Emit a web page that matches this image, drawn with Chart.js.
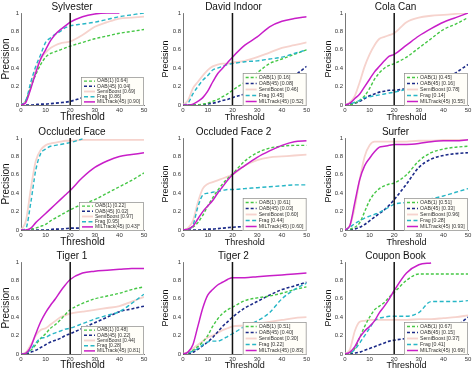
<!DOCTYPE html>
<html>
<head>
<meta charset="utf-8">
<script src="https://cdn.jsdelivr.net/npm/chart.js@4.4.0/dist/chart.umd.min.js"></script>
<style>
  body { margin: 0; background: #fff; }
  #wrap { position: relative; width: 474px; height: 372px; overflow: hidden; }
  #wrap canvas { position: absolute; }
</style>
</head>
<body>
<div id="wrap"></div>
<script>
// x positions (pixel threshold) shared by every panel
const thresholds = [0, 2, 4, 6, 8, 10, 12, 14, 16, 18, 20, 25, 30, 35, 40, 45, 50];
const methods = ['OAB(1)', 'OAB(45)', 'SemiBoost', 'Frag', 'MILTrack(45)'];
const panelTitles = ['Sylvester', 'David Indoor', 'Cola Can', 'Occluded Face', 'Occluded Face 2',
                     'Surfer', 'Tiger 1', 'Tiger 2', 'Coupon Book'];
const xTicks = [0, 10, 20, 30, 40, 50];
const yTicks = [0, 0.2, 0.4, 0.6, 0.8, 1];
const markerThreshold = 20;

// rows: OAB(1), OAB(45), SemiBoost, Frag, MILTrack(45)
const sylvester = [
  [0, 0.05, 0.2, 0.33, 0.44, 0.52, 0.56, 0.58, 0.6, 0.62, 0.64, 0.68, 0.72, 0.75, 0.78, 0.8, 0.82],
  [0, 0, 0, 0.005, 0.01, 0.01, 0.015, 0.02, 0.025, 0.03, 0.04, 0.08, 0.12, 0.16, 0.2, 0.22, 0.24],
  [0, 0.04, 0.2, 0.38, 0.5, 0.57, 0.62, 0.65, 0.67, 0.68, 0.69, 0.76, 0.85, 0.9, 0.94, 0.95, 0.96],
  [0, 0.05, 0.25, 0.42, 0.55, 0.68, 0.73, 0.77, 0.8, 0.84, 0.86, 0.88, 0.9, 0.93, 0.96, 0.98, 1],
  [0, 0.03, 0.18, 0.35, 0.5, 0.6, 0.7, 0.77, 0.82, 0.86, 0.9, 0.96, 0.99, 1, 1, null, null]
];
const davidIndoor = [
  [0, 0, 0, 0, 0.01, 0.02, 0.04, 0.06, 0.09, 0.12, 0.16, 0.25, 0.35, 0.45, 0.5, 0.55, 0.6],
  [0, 0, 0, 0, 0, 0.01, 0.02, 0.03, 0.05, 0.06, 0.08, 0.12, 0.16, 0.2, 0.25, 0.32, 0.42],
  [0, 0.05, 0.18, 0.25, 0.32, 0.38, 0.42, 0.44, 0.45, 0.45, 0.46, 0.48, 0.52, 0.57, 0.62, 0.65, 0.68],
  [0, 0.02, 0.12, 0.2, 0.27, 0.32, 0.38, 0.4, 0.42, 0.44, 0.45, 0.47, 0.48, 0.5, 0.52, 0.56, 0.6],
  [0, 0, 0.01, 0.04, 0.08, 0.15, 0.25, 0.34, 0.4, 0.46, 0.52, 0.65, 0.74, 0.85, 0.91, 0.94, 0.96]
];
const colaCan = [
  [0, 0, 0.02, 0.05, 0.1, 0.18, 0.28, 0.35, 0.4, 0.43, 0.45, 0.52, 0.62, 0.72, 0.82, 0.88, 0.95],
  [0, 0.01, 0.02, 0.04, 0.07, 0.1, 0.12, 0.14, 0.15, 0.16, 0.16, 0.18, 0.2, 0.23, 0.27, 0.35, 0.44],
  [0, 0.03, 0.1, 0.25, 0.42, 0.55, 0.65, 0.72, 0.74, 0.76, 0.78, 0.9, 0.95, 0.97, 0.98, 0.99, 1],
  [0, 0.01, 0.03, 0.05, 0.08, 0.09, 0.1, 0.11, 0.12, 0.13, 0.14, 0.17, 0.2, 0.22, 0.24, 0.27, 0.3],
  [0, 0.02, 0.07, 0.12, 0.2, 0.28, 0.36, 0.42, 0.48, 0.53, 0.55, 0.65, 0.75, 0.83, 0.9, 0.95, 1]
];
const occludedFace = [
  [0, 0, 0.01, 0.02, 0.04, 0.06, 0.1, 0.13, 0.16, 0.19, 0.22, 0.28, 0.33, 0.4, 0.47, 0.54, 0.62],
  [0, 0, 0, 0, 0, 0, 0.005, 0.01, 0.01, 0.015, 0.02, 0.02, 0.03, 0.03, 0.04, 0.05, 0.05],
  [0, 0.1, 0.45, 0.75, 0.87, 0.92, 0.94, 0.95, 0.96, 0.97, 0.97, 0.98, 0.98, 0.98, 0.98, 0.98, 0.98],
  [0, 0.02, 0.3, 0.65, 0.83, 0.88, 0.91, 0.92, 0.93, 0.94, 0.95, 0.99, null, null, null, null, null],
  [0, 0, 0.02, 0.08, 0.13, 0.18, 0.23, 0.28, 0.33, 0.38, 0.43, 0.57, 0.68, 0.75, 0.8, 0.82, 0.84]
];
const occludedFace2 = [
  [0, 0.01, 0.03, 0.08, 0.16, 0.26, 0.35, 0.43, 0.5, 0.56, 0.61, 0.75, 0.84, 0.89, 0.91, 0.92, 0.92],
  [0, 0, 0, 0, 0.005, 0.01, 0.01, 0.015, 0.02, 0.025, 0.03, 0.04, 0.06, 0.07, 0.08, 0.1, 0.12],
  [0, 0.02, 0.1, 0.3, 0.45, 0.5, 0.52, 0.54, 0.56, 0.58, 0.6, 0.7, 0.76, 0.79, 0.8, 0.81, 0.82],
  [0, 0.01, 0.05, 0.25, 0.38, 0.4, 0.41, 0.42, 0.43, 0.44, 0.44, 0.45, 0.46, 0.47, 0.48, 0.49, 0.49],
  [0, 0.01, 0.04, 0.12, 0.2, 0.26, 0.32, 0.4, 0.47, 0.54, 0.6, 0.7, 0.79, 0.86, 0.92, 0.96, 0.97]
];
const surfer = [
  [0, 0.01, 0.03, 0.08, 0.2, 0.32, 0.4, 0.45, 0.48, 0.5, 0.51, 0.6, 0.75, 0.84, 0.88, 0.9, 0.91],
  [0, 0, 0.01, 0.03, 0.06, 0.1, 0.14, 0.18, 0.22, 0.27, 0.33, 0.5, 0.68, 0.77, 0.81, 0.83, 0.84],
  [0, 0.05, 0.25, 0.55, 0.8, 0.92, 0.96, 0.96, 0.96, 0.96, 0.96, 0.96, 0.97, 0.97, 0.98, 0.98, 0.98],
  [0, 0.03, 0.07, 0.1, 0.13, 0.15, 0.17, 0.19, 0.22, 0.25, 0.28, 0.3, 0.32, 0.34, 0.37, 0.41, 0.45],
  [0, 0.05, 0.3, 0.55, 0.7, 0.78, 0.85, 0.9, 0.91, 0.92, 0.93, 0.93, 0.94, 0.96, 0.97, 0.97, 0.98]
];
const tiger1 = [
  [0, 0.01, 0.04, 0.1, 0.17, 0.22, 0.28, 0.32, 0.37, 0.43, 0.48, 0.55, 0.6, 0.63, 0.66, 0.7, 0.73],
  [0, 0, 0.02, 0.04, 0.07, 0.1, 0.13, 0.15, 0.17, 0.2, 0.22, 0.28, 0.34, 0.4, 0.46, 0.49, 0.52],
  [0, 0.02, 0.1, 0.2, 0.26, 0.28, 0.32, 0.36, 0.4, 0.42, 0.44, 0.46, 0.48, 0.5, 0.52, 0.57, 0.62],
  [0, 0.01, 0.05, 0.12, 0.17, 0.18, 0.21, 0.23, 0.25, 0.27, 0.28, 0.33, 0.38, 0.42, 0.46, 0.55, 0.65],
  [0, 0.01, 0.08, 0.22, 0.35, 0.45, 0.53, 0.6, 0.68, 0.75, 0.81, 0.88, 0.9, 0.91, 0.92, 0.93, 0.93]
];
const tiger2 = [
  [0, 0.01, 0.04, 0.08, 0.13, 0.2, 0.3, 0.38, 0.44, 0.48, 0.51, 0.58, 0.61, 0.63, 0.66, 0.7, 0.73],
  [0, 0, 0.02, 0.05, 0.09, 0.13, 0.18, 0.24, 0.3, 0.35, 0.4, 0.5, 0.57, 0.64, 0.7, 0.74, 0.78],
  [0, 0.02, 0.06, 0.1, 0.14, 0.18, 0.2, 0.23, 0.26, 0.28, 0.3, 0.31, 0.33, 0.35, 0.37, 0.39, 0.4],
  [0, 0.01, 0.03, 0.06, 0.1, 0.13, 0.14, 0.14, 0.16, 0.19, 0.22, 0.3, 0.36, 0.45, 0.6, 0.7, 0.77],
  [0, 0.02, 0.1, 0.3, 0.5, 0.64, 0.7, 0.75, 0.78, 0.81, 0.83, 0.83, 0.84, 0.85, 0.86, 0.87, 0.88]
];
const couponBook = [
  [0, 0.01, 0.06, 0.18, 0.3, 0.4, 0.48, 0.52, 0.56, 0.62, 0.67, 0.8, 0.87, 0.87, 0.87, 0.87, 0.87],
  [0, 0, 0.01, 0.02, 0.04, 0.06, 0.08, 0.1, 0.12, 0.14, 0.15, 0.17, 0.19, 0.2, 0.22, 0.3, 0.4],
  [0, 0.05, 0.25, 0.35, 0.36, 0.37, 0.37, 0.37, 0.37, 0.37, 0.37, 0.37, 0.38, 0.38, 0.39, 0.4, 0.42],
  [0, 0.01, 0.05, 0.12, 0.2, 0.28, 0.36, 0.39, 0.4, 0.41, 0.41, 0.41, 0.45, 0.57, 0.57, 0.57, 0.58],
  [0, 0.02, 0.08, 0.18, 0.25, 0.3, 0.36, 0.45, 0.52, 0.6, 0.69, 0.88, 0.97, 0.99, null, null, null]
];

// precision at 20 px, as printed in each legend
const sylvesterScores = ['0.64', '0.04', '0.69', '0.86', '0.90'];
const davidIndoorScores = ['0.16', '0.08', '0.46', '0.45', '0.52'];
const colaCanScores = ['0.45', '0.16', '0.78', '0.14', '0.55'];
const occludedFaceScores = ['0.22', '0.02', '0.97', '0.95', '0.43'];
const occludedFace2Scores = ['0.61', '0.03', '0.60', '0.44', '0.60'];
const surferScores = ['0.51', '0.33', '0.96', '0.28', '0.93'];
const tiger1Scores = ['0.48', '0.22', '0.44', '0.28', '0.81'];
const tiger2Scores = ['0.51', '0.40', '0.30', '0.22', '0.83'];
const couponBookScores = ['0.67', '0.15', '0.37', '0.41', '0.69'];

const panels = [sylvester, davidIndoor, colaCan, occludedFace, occludedFace2, surfer, tiger1, tiger2, couponBook];
const panelScores = [sylvesterScores, davidIndoorScores, colaCanScores, occludedFaceScores,
  occludedFace2Scores, surferScores, tiger1Scores, tiger2Scores, couponBookScores];
const starredPanel = 3; // MILTrack entry of Occluded Face carries a '*'

// line styles per method
const lineStyles = [
  { color: '#45c745', width: 1.4, dash: [3, 2], order: 3 },
  { color: '#1b2a88', width: 1.6, dash: [3, 2], order: 4 },
  { color: '#f6d3cd', width: 1.8, dash: [], order: 5 },
  { color: '#27b6c6', width: 1.4, dash: [4, 2.5], order: 2 },
  { color: '#c81ec8', width: 1.5, dash: [], order: 1 }
];

// layout of the 3x3 grid
const cols = [
  { left: 0, width: 150, yw: 21, right: 6, axisFont: 10, rowH: 5.2, legendFont: 5 },
  { left: 160, width: 152, yw: 23, right: 5, axisFont: 9, rowH: 6, legendFont: 5.2 },
  { left: 323, width: 151, yw: 22, right: 6, axisFont: 9, rowH: 6, legendFont: 5.2 }
];
const rows = [
  { top: 0, height: 124, titleTop: 1, xh: 19 },
  { top: 124, height: 125, titleTop: 2, xh: 19 },
  { top: 248, height: 124, titleTop: 2, xh: 18 }
];

Chart.defaults.font.family = '"Liberation Sans", Arial, sans-serif';
Chart.defaults.color = '#222';

// legend box drawn in the lower right corner of the plot area
const boxLegend = {
  id: 'boxLegend',
  afterDatasetsDraw(chart, args, opts) {
    const { ctx, chartArea } = chart;
    const items = chart.data.datasets.filter(d => d.label);
    ctx.save();
    ctx.font = opts.fontSize + 'px "Liberation Sans", Arial, sans-serif';
    const textW = Math.max(...items.map(d => ctx.measureText(d.label).width));
    const w = Math.ceil(textW) + 19;
    const h = opts.rowH * items.length + 3;
    const x0 = chartArea.right - w;
    const y0 = chartArea.bottom - h + 1;
    ctx.fillStyle = '#fffef8';
    ctx.fillRect(x0, y0, w, h);
    ctx.strokeStyle = '#8a8a8a';
    ctx.lineWidth = 0.7;
    ctx.strokeRect(x0 + 0.5, y0 + 0.5, w - 1, h - 1);
    ctx.textBaseline = 'middle';
    items.forEach((d, i) => {
      const y = y0 + 1.5 + opts.rowH * (i + 0.5);
      ctx.setLineDash(d.borderDash || []);
      ctx.strokeStyle = d.borderColor;
      ctx.lineWidth = d.borderWidth;
      ctx.beginPath();
      ctx.moveTo(x0 + 3, y);
      ctx.lineTo(x0 + 14, y);
      ctx.stroke();
      ctx.setLineDash([]);
      ctx.fillStyle = '#333';
      ctx.fillText(d.label, x0 + 16, y);
    });
    ctx.restore();
  }
};

const wrap = document.getElementById('wrap');

panels.forEach((series, p) => {
  const col = cols[p % 3];
  const row = rows[Math.floor(p / 3)];
  const canvas = document.createElement('canvas');
  canvas.width = col.width;
  canvas.height = row.height;
  canvas.style.left = col.left + 'px';
  canvas.style.top = row.top + 'px';
  wrap.appendChild(canvas);

  const datasets = series.map((vals, k) => {
    const st = lineStyles[k];
    let label = methods[k] + ' [' + panelScores[p][k] + ']';
    if (p === starredPanel && k === 4) label += '*';
    return {
      label: label,
      data: thresholds.map((t, i) => ({ x: t, y: vals[i] })),
      borderColor: st.color,
      borderWidth: st.width,
      borderDash: st.dash,
      order: st.order,
      pointRadius: 0,
      cubicInterpolationMode: 'monotone',
      fill: false
    };
  });
  // vertical marker at the 20 px threshold
  datasets.push({
    label: '',
    data: [{ x: markerThreshold, y: 0 }, { x: markerThreshold, y: 1 }],
    borderColor: '#111',
    borderWidth: 1.5,
    pointRadius: 0,
    order: 0
  });

  new Chart(canvas, {
    type: 'line',
    data: { datasets: datasets },
    options: {
      responsive: false,
      animation: false,
      events: [],
      layout: { padding: { left: 0, right: col.right, top: 0, bottom: 0 } },
      plugins: {
        legend: { display: false },
        tooltip: { enabled: false },
        title: {
          display: true,
          text: panelTitles[p],
          font: { size: 10, weight: 'normal' },
          color: '#111',
          padding: { top: row.titleTop, bottom: 0 }
        },
        boxLegend: { rowH: col.rowH, fontSize: col.legendFont }
      },
      scales: {
        x: {
          type: 'linear',
          min: 0,
          max: 50,
          afterFit: s => { s.height = row.xh; },
          afterBuildTicks: s => { s.ticks = xTicks.map(v => ({ value: v })); },
          grid: { display: false, drawTicks: false },
          border: { display: true, color: '#555', width: 0.8 },
          ticks: { font: { size: 6 }, padding: 2, maxRotation: 0, color: '#333' },
          title: { display: true, text: 'Threshold', font: { size: col.axisFont }, padding: { top: 0, bottom: 1 }, color: '#111' }
        },
        y: {
          min: 0,
          max: 1,
          afterFit: s => { s.width = col.yw; },
          afterBuildTicks: s => { s.ticks = yTicks.map(v => ({ value: v })); },
          grid: { display: false, drawTicks: false },
          border: { display: true, color: '#555', width: 0.8 },
          ticks: { font: { size: 6 }, padding: 2, color: '#333', callback: v => String(+v.toFixed(1)) },
          title: { display: true, text: 'Precision', font: { size: col.axisFont }, padding: { top: 0, bottom: 0 }, color: '#111' }
        }
      }
    },
    plugins: [boxLegend]
  });
});
</script>
</body>
</html>
